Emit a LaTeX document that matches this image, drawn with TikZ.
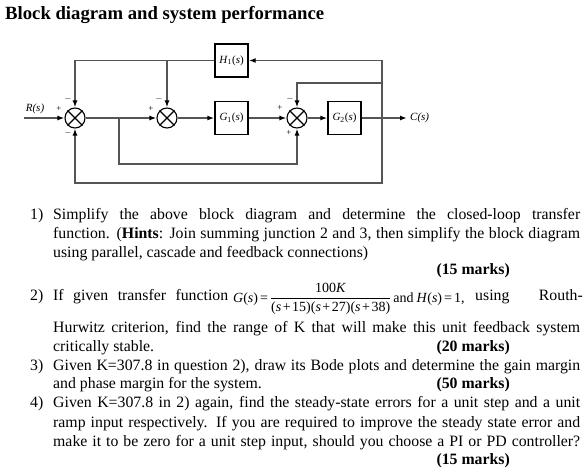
\documentclass[tikz,border=0pt]{standalone}
\usepackage{fontspec}
\setmainfont{Liberation Serif}
\usetikzlibrary{arrows.meta}
\definecolor{wirecol}{RGB}{85,85,85}
\begin{document}
\begin{tikzpicture}[x=1pt,y=-1pt,
  wire/.style={draw=wirecol,line width=1.4pt},
  arr/.style={wire,-{Latex[length=7pt,width=5pt,color=black]}},
  sumj/.style={circle,draw=black,line width=1.1pt,minimum size=20pt,inner sep=0pt},
  blk/.style={draw=black,line width=1.4pt,minimum width=33pt,minimum height=33pt,inner sep=0pt,font=\fontsize{11}{13}\selectfont},
  sgn/.style={font=\fontsize{9}{10}\selectfont,inner sep=0pt},
  lbl/.style={font=\fontsize{11}{13}\selectfont\itshape,inner sep=0pt},
  body/.style={font=\fontsize{15.8}{18}\selectfont,inner sep=0pt,anchor=base west},
  eqn/.style={font=\fontsize{14}{16}\selectfont,inner sep=0pt,anchor=base west},
  marks/.style={font=\fontsize{15.8}{18}\selectfont\bfseries,inner sep=0pt,anchor=base east},
  ttl/.style={font=\fontsize{18.7}{21}\selectfont\bfseries,inner sep=0pt,anchor=base west}
]
\fill[white] (0,0) rectangle (585,471);
\useasboundingbox (0,0) rectangle (585,471);

\node[ttl] (title) at (5,19) {Block diagram and system performance};

% --- block diagram ---
\node[sumj] (s1) at (75,118) {};
\node[sumj] (s2) at (167,118) {};
\node[sumj] (s3) at (297,118) {};
\foreach \s in {s1,s2,s3}{
  \draw[line width=1.1pt] (\s.north west) -- (\s.south east) (\s.north east) -- (\s.south west);
}
\node[blk] (H1) at (231.5,60.5) {\textit{H}\textsubscript{1}(\textit{s})};
\node[blk] (G1) at (231.5,118) {\textit{G}\textsubscript{1}(\textit{s})};
\node[blk] (G2) at (344.5,118) {\textit{G}\textsubscript{2}(\textit{s})};

\coordinate (in) at (24,118);
\coordinate (out) at (407,118);
\coordinate (b1) at (119,118);
\coordinate (b2) at (382,118);
\coordinate (f3) at (382,83);
\coordinate (ffb) at (119,164);
\coordinate (fbb) at (382,183);

\draw[arr] (in) -- (s1);
\draw[arr] (s1) -- (s2);
\draw[arr] (s2) -- (G1);
\draw[arr] (G1) -- (s3);
\draw[arr] (s3) -- (G2);
\draw[arr] (G2) -- (out);
\draw[arr] (b2) |- (H1);
\draw[arr] (f3) -| (s3);
\draw[arr] (H1) -| (s1);
\draw[arr] (H1 -| s2) -- (s2);
\draw[arr] (b1) -- (ffb) -| (s3);
\draw[arr] (b2) -- (fbb) -| (s1);

\node[lbl] (rl) at (35,109) {R(s)};
\node[lbl,anchor=west] (cl) at (410,118) {C(s)};
\node[sgn] (p11) at (59,109) {+};
\node[sgn] (m12) at (68,99) {$-$};
\node[sgn] (m13) at (68,133) {$-$};
\node[sgn] (p21) at (151,109) {+};
\node[sgn] (m22) at (159,99) {$-$};
\node[sgn] (p31) at (280,108) {+};
\node[sgn] (m32) at (290,99) {$-$};
\node[sgn] (p33) at (289,133) {+};

% --- questions ---
\node[body] (n1) at (30,219) {1)};
\node[body] (l1) at (53,219) {\makebox[527pt][s]{Simplify the above block diagram and determine the closed-loop transfer}};
\node[body] (l2) at (53,238) {\makebox[527pt][s]{function. (\textbf{Hints}: Join summing junction 2 and 3, then simplify the block diagram}};
\node[body] (l3) at (53,257) {using parallel, cascade and feedback connections)};
\node[marks] (mk1) at (510,274) {(15 marks)};

\node[body] (n2) at (30,300) {2)};
\node[body] (l4a) at (53,300) {\makebox[175pt][s]{If given transfer function}};
\node[eqn] (l4b) at (233,302) {\textit{G}(\textit{s})\hspace{2pt}=\hspace{2pt}$\displaystyle\frac{\mbox{100\textit{K}}}{\mbox{(\textit{s}\hspace{1.5pt}+\hspace{1.5pt}15)(\textit{s}\hspace{1.5pt}+\hspace{1.5pt}27)(\textit{s}\hspace{1.5pt}+\hspace{1.5pt}38)}}$\hspace{2pt}and\hspace{3pt}\textit{H}(\textit{s})\hspace{2pt}=\hspace{2pt}1,};
\node[body] (l4c) at (475,300) {using};
\node[body,anchor=base east] (l4d) at (583,300) {Routh-};
\node[body] (l5) at (53,332) {\makebox[527pt][s]{Hurwitz criterion, find the range of K that will make this unit feedback system}};
\node[body] (l6) at (53,351) {critically stable.};
\node[marks] (mk2) at (510,351) {(20 marks)};

\node[body] (n3) at (30,370) {3)};
\node[body] (l7) at (53,370) {\makebox[527pt][s]{Given K=307.8 in question 2), draw its Bode plots and determine the gain margin}};
\node[body] (l8) at (53,388) {and phase margin for the system.};
\node[marks] (mk3) at (510,388) {(50 marks)};

\node[body] (n4) at (30,407) {4)};
\node[body] (l9) at (53,407) {\makebox[527pt][s]{Given K=307.8 in 2) again, find the steady-state errors for a unit step and a unit}};
\node[body] (l10) at (53,427) {\makebox[527pt][s]{ramp input respectively. If you are required to improve the steady state error and}};
\node[body] (l11) at (53,446) {\makebox[527pt][s]{make it to be zero for a unit step input, should you choose a PI or PD controller?}};
\node[marks] (mk4) at (510,464) {(15 marks)};
\end{tikzpicture}
\end{document}
